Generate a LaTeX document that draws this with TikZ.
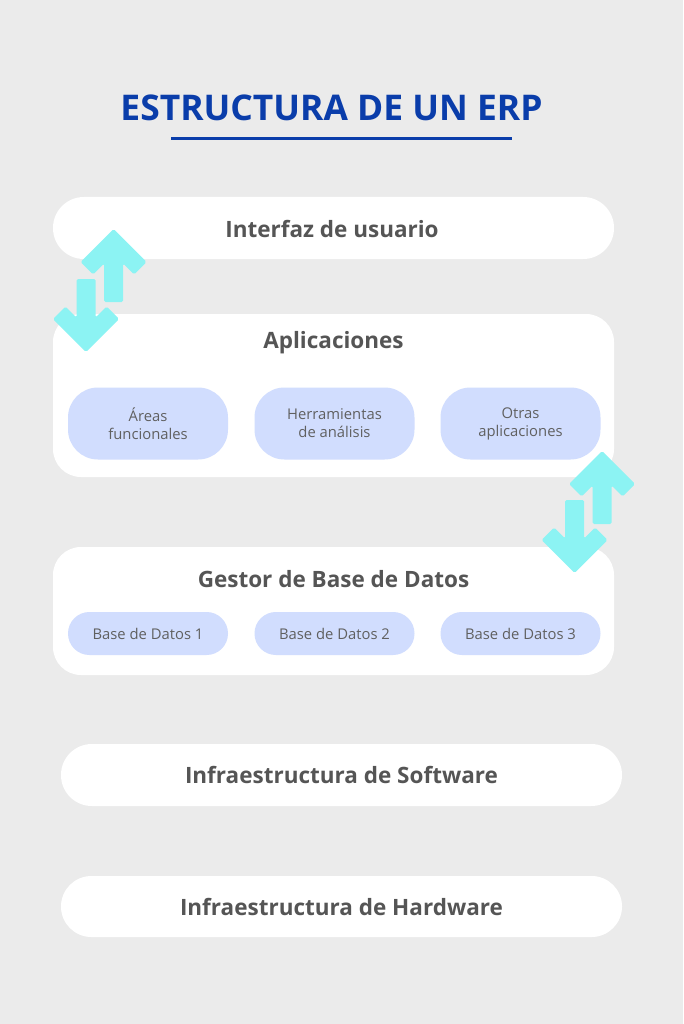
\documentclass[tikz,border=0pt]{standalone}
\usepackage{fontspec}
\setmainfont{Open Sans}
\definecolor{bgcol}{HTML}{EBEBEB}
\definecolor{titlecol}{HTML}{0A3DAA}
\definecolor{pillcol}{HTML}{D1DDFE}
\definecolor{headcol}{HTML}{555555}
\definecolor{subcol}{HTML}{606060}
\definecolor{arrowcol}{HTML}{8CF3F3}
\tikzset{
  layerbox/.style={fill=white, draw=none, rectangle, minimum width=561pt, inner sep=0pt},
  headtext/.style={font=\fontsize{22.5}{26}\selectfont\bfseries, text=headcol, inner sep=0pt},
  pill/.style={fill=pillcol, draw=none, rectangle, minimum width=160pt, inner sep=0pt, align=center,
     font=\fontsize{14.8}{18}\selectfont, text=subcol},
  duarrow/.pic={
    \fill[arrowcol, rounded corners=1.5pt] (0,0) -- (-33,33) -- (-20.5,45.5) -- (-9.5,34.5)
      -- (-9.5,73) -- (9.5,73) -- (9.5,34.5) -- (20.5,45.5) -- (33,33) -- cycle;
  }
}
\begin{document}
\begin{tikzpicture}[x=1pt,y=-1pt]
\fill[bgcol] (0,0) rectangle (683,1024);
\useasboundingbox (0,0) rectangle (683,1024);
% title
\node[font=\fontsize{35.4}{40}\selectfont\bfseries, text=titlecol, inner sep=0pt] (title) at (331.5,108) {ESTRUCTURA DE UN ERP};
\coordinate (ulL) at (171,139);
\coordinate (ulR) at (512,139);
\draw[titlecol, line width=3pt] (ulL) -- (ulR);
% layer 1
\node[layerbox, minimum height=62pt, rounded corners=30.9pt] (ui) at (333.5,228) {};
\node[headtext] (uiT) at (332,229) {Interfaz de usuario};
% layer 2
\node[layerbox, minimum height=163pt, rounded corners=28pt] (apps) at (333.5,395.5) {};
\node[headtext] (appsT) at (333.5,343) {Aplicaciones};
\node[pill, minimum height=72pt, rounded corners=30pt] (p1) at (148,423.5) {Áreas\\funcionales};
\node[pill, minimum height=72pt, rounded corners=30pt] (p2) at (334.5,423.5) {Herramientas\\de análisis};
\node[pill, minimum height=72pt, rounded corners=30pt] (p3) at (520.5,423.5) {Otras\\aplicaciones};
% layer 3
\node[layerbox, minimum height=128pt, rounded corners=28pt] (db) at (333.5,611) {};
\node[headtext] (dbT) at (333.5,579) {Gestor de Base de Datos};
\node[pill, minimum height=43pt, rounded corners=21.4pt] (d1) at (148,633.5) {Base de Datos 1};
\node[pill, minimum height=43pt, rounded corners=21.4pt] (d2) at (334.5,633.5) {Base de Datos 2};
\node[pill, minimum height=43pt, rounded corners=21.4pt] (d3) at (520.5,633.5) {Base de Datos 3};
% layer 4
\node[layerbox, minimum height=62pt, rounded corners=30.9pt] (sw) at (341.5,775) {};
\node[headtext] (swT) at (sw.center) {Infraestructura de Software};
% layer 5
\node[layerbox, minimum height=61pt, rounded corners=30.4pt] (hw) at (341.5,906.5) {};
\node[headtext] (hwT) at (hw.center) {Infraestructura de Hardware};
% arrows
\pic at (113.5,229) {duarrow};
\pic[rotate=180] at (86,352) {duarrow};
\pic at (602,451) {duarrow};
\pic[rotate=180] at (574.5,573) {duarrow};
\end{tikzpicture}
\end{document}
